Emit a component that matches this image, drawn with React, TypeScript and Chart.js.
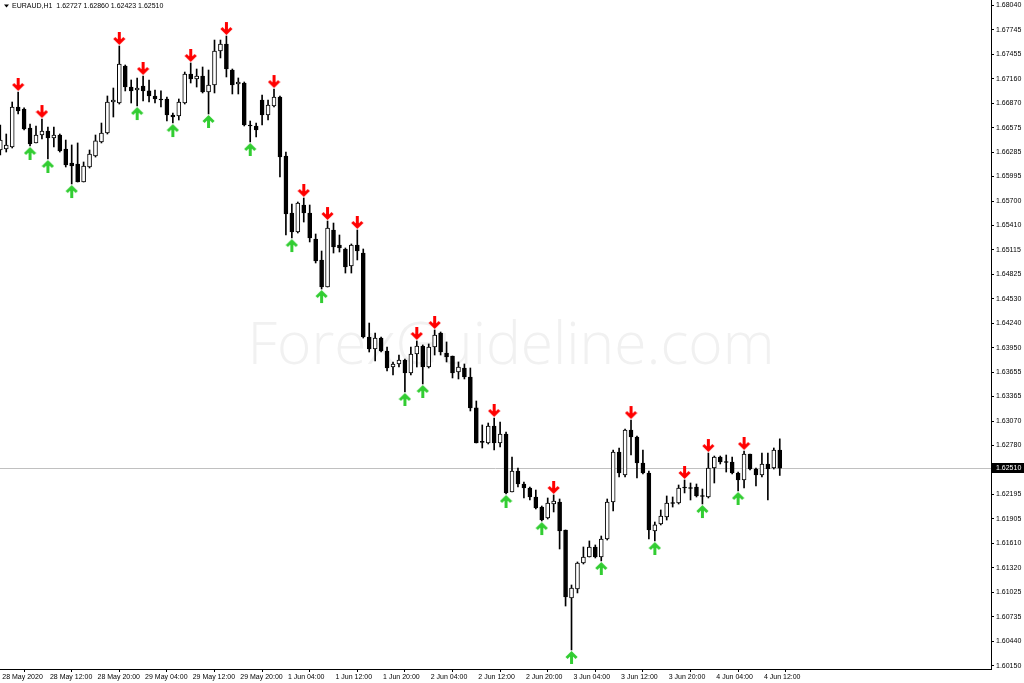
import React, { useEffect, useRef } from "react";
import { Chart, registerables } from "chart.js";
Chart.register(...registerables);

const symbolTitle = "EURAUD,H1";
const watermark = "ForexGuideline.com";

const opens = [
  1.66309, 1.66321, 1.66345, 1.66822, 1.66799, 1.66572, 1.66393, 1.66488, 1.66536, 1.66452,
  1.66488, 1.66321, 1.66154, 1.66142, 1.65927, 1.66106, 1.66237, 1.66405, 1.66512, 1.66882,
  1.66870, 1.67312, 1.67061, 1.67025, 1.67073, 1.67014, 1.66954, 1.66918, 1.66918, 1.66727,
  1.66715, 1.66870, 1.67216, 1.67157, 1.67193, 1.67002, 1.67085, 1.67491, 1.67575, 1.67264,
  1.67097, 1.67109, 1.66608, 1.66596, 1.66906, 1.66727, 1.66834, 1.66942, 1.66237, 1.65557,
  1.65330, 1.65652, 1.65557, 1.65246, 1.64996, 1.64673, 1.65354, 1.65175, 1.65127, 1.64924,
  1.65175, 1.65079, 1.64076, 1.63933, 1.64064, 1.63909, 1.63718, 1.63754, 1.63802, 1.63646,
  1.63873, 1.63969, 1.63718, 1.63957, 1.64124, 1.63885, 1.63849, 1.63658, 1.63706, 1.63599,
  1.63229, 1.62823, 1.62811, 1.63014, 1.62811, 1.62918, 1.62226, 1.62476, 1.62321, 1.62273,
  1.62166, 1.62046, 1.61915, 1.62082, 1.62106, 1.61772, 1.60960, 1.61067, 1.61378, 1.61449,
  1.61569, 1.61449, 1.61664, 1.62106, 1.62703, 1.62429, 1.62966, 1.62882, 1.62572, 1.62452,
  1.61760, 1.61843, 1.61927, 1.62094, 1.62094, 1.62285, 1.62273, 1.62285, 1.62178, 1.62166,
  1.62512, 1.62643, 1.62584, 1.62584, 1.62452, 1.62369, 1.62679, 1.62500, 1.62429, 1.62560,
  1.62512, 1.62727,
];

const highs = [
  1.66608, 1.66500, 1.66882, 1.67002, 1.66811, 1.66619, 1.66596, 1.66679, 1.66584, 1.66584,
  1.66500, 1.66428, 1.66369, 1.66393, 1.66166, 1.66309, 1.66488, 1.66631, 1.66954, 1.67049,
  1.67551, 1.67324, 1.67145, 1.67169, 1.67193, 1.67145, 1.67025, 1.67014, 1.66942, 1.66751,
  1.66918, 1.67240, 1.67348, 1.67276, 1.67300, 1.67264, 1.67622, 1.67622, 1.67670, 1.67276,
  1.67169, 1.67121, 1.66655, 1.66631, 1.66966, 1.66906, 1.67037, 1.66954, 1.66285, 1.65664,
  1.65688, 1.65736, 1.65652, 1.65306, 1.65103, 1.65461, 1.65437, 1.65294, 1.65139, 1.65187,
  1.65354, 1.65127, 1.64243, 1.64124, 1.64076, 1.63957, 1.63778, 1.63861, 1.63814, 1.63957,
  1.64029, 1.63981, 1.63993, 1.64160, 1.64136, 1.64017, 1.63849, 1.63778, 1.63754, 1.63706,
  1.63312, 1.63026, 1.63049, 1.63109, 1.63061, 1.62942, 1.62643, 1.62512, 1.62345, 1.62285,
  1.62249, 1.62058, 1.62154, 1.62190, 1.62142, 1.61772, 1.61115, 1.61390, 1.61569, 1.61641,
  1.61593, 1.61700, 1.62142, 1.62727, 1.62751, 1.62978, 1.63085, 1.62894, 1.62727, 1.62476,
  1.61867, 1.62011, 1.62178, 1.62166, 1.62309, 1.62369, 1.62333, 1.62321, 1.62261, 1.62691,
  1.62655, 1.62655, 1.62667, 1.62643, 1.62464, 1.62715, 1.62679, 1.62512, 1.62691, 1.62691,
  1.62751, 1.62860,
];

const lows = [
  1.66249, 1.66285, 1.66333, 1.66739, 1.66548, 1.66357, 1.66393, 1.66440, 1.66202, 1.66345,
  1.66285, 1.66106, 1.65903, 1.65927, 1.65927, 1.66094, 1.66225, 1.66393, 1.66500, 1.66703,
  1.66858, 1.67014, 1.66870, 1.66834, 1.66894, 1.66882, 1.66870, 1.66822, 1.66655, 1.66631,
  1.66667, 1.66858, 1.67109, 1.67061, 1.66990, 1.66739, 1.66990, 1.67408, 1.67181, 1.66978,
  1.66978, 1.66596, 1.66405, 1.66464, 1.66608, 1.66667, 1.66822, 1.65987, 1.65294, 1.65258,
  1.65318, 1.65449, 1.65211, 1.64960, 1.64649, 1.64673, 1.65079, 1.65091, 1.64840, 1.64840,
  1.64996, 1.64064, 1.63897, 1.63790, 1.63897, 1.63670, 1.63623, 1.63718, 1.63420, 1.63623,
  1.63718, 1.63515, 1.63706, 1.63861, 1.63861, 1.63778, 1.63587, 1.63575, 1.63575, 1.63193,
  1.62811, 1.62751, 1.62799, 1.62727, 1.62763, 1.62202, 1.62226, 1.62285, 1.62154, 1.62130,
  1.62023, 1.61879, 1.61903, 1.61987, 1.61545, 1.60864, 1.60339, 1.61020, 1.61366, 1.61449,
  1.61438, 1.61402, 1.61652, 1.61999, 1.62405, 1.62405, 1.62667, 1.62393, 1.62440, 1.61664,
  1.61641, 1.61832, 1.61891, 1.62046, 1.62082, 1.62214, 1.62130, 1.62166, 1.62082, 1.62154,
  1.62333, 1.62560, 1.62464, 1.62440, 1.62238, 1.62273, 1.62488, 1.62297, 1.62405, 1.62130,
  1.62500, 1.62423,
];

const closes = [
  1.66428, 1.66369, 1.66822, 1.66775, 1.66560, 1.66381, 1.66488, 1.66536, 1.66452, 1.66488,
  1.66297, 1.66130, 1.66118, 1.65927, 1.66118, 1.66261, 1.66417, 1.66512, 1.66882, 1.66906,
  1.67336, 1.67061, 1.67014, 1.67049, 1.67014, 1.66954, 1.66918, 1.66906, 1.66727, 1.66703,
  1.66882, 1.67216, 1.67157, 1.67193, 1.67002, 1.67085, 1.67491, 1.67575, 1.67276, 1.67085,
  1.67121, 1.66608, 1.66596, 1.66548, 1.66727, 1.66846, 1.66942, 1.66225, 1.65545, 1.65330,
  1.65676, 1.65557, 1.65258, 1.64984, 1.64673, 1.65378, 1.65151, 1.65139, 1.64912, 1.65175,
  1.65103, 1.64076, 1.63933, 1.64064, 1.63909, 1.63706, 1.63754, 1.63802, 1.63646, 1.63873,
  1.63969, 1.63718, 1.63957, 1.64100, 1.63897, 1.63837, 1.63646, 1.63718, 1.63599, 1.63229,
  1.62811, 1.62817, 1.63014, 1.62811, 1.62918, 1.62214, 1.62476, 1.62321, 1.62273, 1.62166,
  1.62035, 1.61891, 1.62094, 1.62118, 1.61760, 1.60972, 1.61079, 1.61378, 1.61449, 1.61569,
  1.61449, 1.61664, 1.62106, 1.62703, 1.62452, 1.62966, 1.62882, 1.62572, 1.62452, 1.61772,
  1.61832, 1.61939, 1.62094, 1.62088, 1.62273, 1.62273, 1.62267, 1.62178, 1.62172, 1.62512,
  1.62643, 1.62584, 1.62578, 1.62452, 1.62369, 1.62679, 1.62500, 1.62429, 1.62560, 1.62500,
  1.62727, 1.62510,
];

const downFractals = [3, 7, 20, 24, 32, 38, 46, 51, 55, 60, 70, 73, 83, 93, 106, 115, 119, 125];
const upFractals = [5, 8, 12, 23, 29, 35, 42, 49, 54, 68, 71, 85, 91, 96, 101, 110, 118, 124];

const timeTickIdx = [0, 8, 16, 24, 32, 40, 48, 56, 64, 72, 80, 88, 96, 104, 112, 120, 128];
const timeTickLabels = [
  "28 May 2020", "28 May 12:00", "28 May 20:00", "29 May 04:00", "29 May 12:00", "29 May 20:00",
  "1 Jun 04:00", "1 Jun 12:00", "1 Jun 20:00", "2 Jun 04:00", "2 Jun 12:00", "2 Jun 20:00",
  "3 Jun 04:00", "3 Jun 12:00", "3 Jun 20:00", "4 Jun 04:00", "4 Jun 12:00",
];

const priceTicks = [
  1.6804, 1.67745, 1.67455, 1.6716, 1.6687, 1.66575, 1.66285, 1.65995, 1.657, 1.6541,
  1.65115, 1.64825, 1.6453, 1.6424, 1.6395, 1.63655, 1.63365, 1.6307, 1.6278, 1.62195,
  1.61905, 1.6161, 1.6132, 1.61025, 1.60735, 1.6044, 1.6015,
];

const FONT = '"Liberation Sans", Arial, sans-serif';

function arrowCanvas(color: string, down: boolean): HTMLCanvasElement {
  const c = document.createElement("canvas");
  c.width = 13;
  c.height = 30;
  const g = c.getContext("2d") as CanvasRenderingContext2D;
  g.strokeStyle = color;
  g.lineWidth = 3;
  g.lineJoin = "miter";
  if (down) {
    g.beginPath(); g.moveTo(6.5, 1); g.lineTo(6.5, 12); g.stroke();
    g.beginPath(); g.moveTo(1.5, 7); g.lineTo(6.5, 12); g.lineTo(11.5, 7); g.stroke();
  } else {
    g.beginPath(); g.moveTo(6.5, 29); g.lineTo(6.5, 18); g.stroke();
    g.beginPath(); g.moveTo(1.5, 23); g.lineTo(6.5, 18); g.lineTo(11.5, 23); g.stroke();
  }
  return c;
}

export default function App() {
  const ref = useRef<HTMLCanvasElement | null>(null);

  useEffect(() => {
    document.body.style.margin = "0";
    const canvas = ref.current;
    if (!canvas) return;
    const last = closes.length - 1;

    const decor = {
      id: "decor",
      beforeDatasetsDraw(chart: any) {
        const { ctx, chartArea: a, scales } = chart;
        ctx.save();
        let size = 60;
        ctx.font = `300 ${size}px "Open Sans", sans-serif`;
        const w = ctx.measureText(watermark).width;
        size = (size * 527) / w;
        ctx.font = `300 ${size}px "Open Sans", sans-serif`;
        ctx.fillStyle = "#f1f1f1";
        ctx.textAlign = "center";
        ctx.textBaseline = "alphabetic";
        ctx.fillText(watermark, 511, 364);
        const y = Math.round(scales.y.getPixelForValue(closes[last])) + 0.5;
        ctx.strokeStyle = "#c0c0c0";
        ctx.lineWidth = 1;
        ctx.beginPath();
        ctx.moveTo(a.left, y);
        ctx.lineTo(a.right, y);
        ctx.stroke();
        ctx.restore();
      },
      afterDraw(chart: any) {
        const { ctx, chartArea: a, scales } = chart;
        ctx.save();
        const y = Math.round(scales.y.getPixelForValue(closes[last]));
        ctx.fillStyle = "#000";
        ctx.fillRect(a.right + 1, y - 5, 1024 - a.right - 1, 10);
        ctx.fillStyle = "#fff";
        ctx.font = `7px ${FONT}`;
        ctx.textAlign = "left";
        ctx.textBaseline = "middle";
        ctx.fillText(closes[last].toFixed(5), a.right + 5, y + 0.5);
        ctx.fillStyle = "#000";
        ctx.beginPath();
        ctx.moveTo(4, 4.5);
        ctx.lineTo(9, 4.5);
        ctx.lineTo(6.5, 7.5);
        ctx.closePath();
        ctx.fill();
        const t = `${symbolTitle}  ${opens[last].toFixed(5)} ${highs[last].toFixed(5)} ${lows[last].toFixed(5)} ${closes[last].toFixed(5)}`;
        ctx.fillText(t, 12, 6.5);
        ctx.restore();
      },
    };

    const chart = new Chart(canvas, {
      type: "bar",
      data: {
        datasets: [
          {
            type: "scatter",
            data: downFractals.map((i) => ({ x: i, y: highs[i] })),
            pointStyle: arrowCanvas("#ff0000", true),
            pointRadius: 6,
            order: 1,
          } as any,
          {
            type: "scatter",
            data: upFractals.map((i) => ({ x: i, y: lows[i] })),
            pointStyle: arrowCanvas("#32cd32", false),
            pointRadius: 6,
            order: 1,
          } as any,
          {
            data: opens.map((o, i) => ({ x: i, y: [o, closes[i]] })),
            backgroundColor: opens.map((o, i) => (closes[i] > o ? "#ffffff" : "#000000")),
            borderColor: "#000",
            borderWidth: 1,
            borderSkipped: false,
            barThickness: 4,
            minBarLength: 1,
            grouped: false,
            order: 2,
          } as any,
          {
            data: lows.map((l, i) => ({ x: i, y: [l, highs[i]] })),
            backgroundColor: "#000",
            borderWidth: 0,
            barThickness: 1,
            grouped: false,
            order: 3,
          } as any,
        ],
      },
      options: {
        animation: false,
        responsive: false,
        events: [],
        layout: { padding: 0, autoPadding: false },
        plugins: { legend: { display: false }, tooltip: { enabled: false } },
        scales: {
          x: {
            type: "linear",
            offset: false,
            min: -0.05,
            max: 166.5,
            grid: { drawOnChartArea: false, drawTicks: true, tickLength: 3, color: "#000" },
            border: { display: true, color: "#000" },
            afterBuildTicks: (s: any) => {
              s.ticks = timeTickIdx.map((v) => ({ value: v }));
            },
            afterFit: (s: any) => {
              s.height = 14;
              s.paddingLeft = 0;
              s.paddingRight = 0;
            },
            ticks: {
              autoSkip: false,
              maxRotation: 0,
              minRotation: 0,
              align: "start",
              labelOffset: 2,
              padding: 1,
              color: "#000",
              font: { family: FONT, size: 7 },
              callback: (_v: any, i: number) => timeTickLabels[i],
            },
          },
          y: {
            type: "linear",
            position: "right",
            beginAtZero: false,
            min: 1.60112,
            max: 1.681,
            grid: { drawOnChartArea: false, drawTicks: true, tickLength: 3, color: "#000" },
            border: { display: true, color: "#000" },
            afterBuildTicks: (s: any) => {
              s.ticks = priceTicks.map((v) => ({ value: v }));
            },
            afterFit: (s: any) => {
              s.width = 33;
              s.paddingTop = 0;
              s.paddingBottom = 0;
            },
            ticks: {
              padding: 2,
              color: "#000",
              font: { family: FONT, size: 7 },
              callback: (v: any) => Number(v).toFixed(5),
            },
          },
        },
      } as any,
      plugins: [decor],
    });
    return () => chart.destroy();
  }, []);

  return <canvas ref={ref} width={1024} height={683} style={{ display: "block" }} />;
}
